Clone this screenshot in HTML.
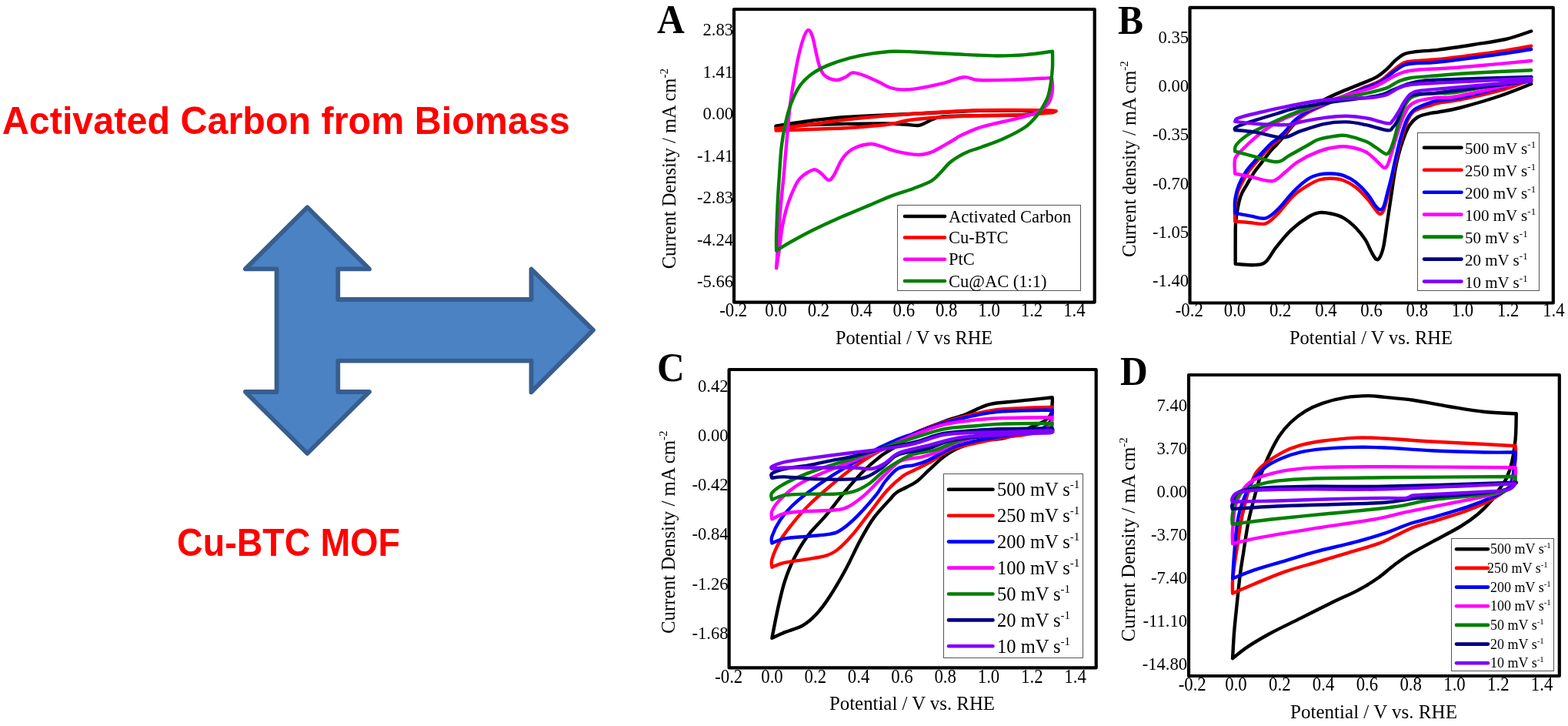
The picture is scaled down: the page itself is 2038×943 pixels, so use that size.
<!DOCTYPE html>
<html><head><meta charset="utf-8"><title>Cu@AC electrocatalyst</title>
<style>html,body{margin:0;padding:0;background:#fff;width:2038px;height:943px;overflow:hidden}svg{display:block}</style>
</head><body>
<svg width="2038" height="943" viewBox="0 0 2038 943">
<g font-family="Liberation Sans, Arial, sans-serif" font-weight="bold" fill="#ff0000">
<text x="2.8" y="173.6" font-size="49.5" textLength="738" lengthAdjust="spacingAndGlyphs">Activated Carbon from Biomass</text>
<text x="230" y="721.5" font-size="50.8" textLength="290" lengthAdjust="spacingAndGlyphs">Cu-BTC MOF</text>
</g>
<polygon points="399.4,269.3 318.9,349.4 359.6,349.4 359.6,509 318.9,509 399.4,589 480,509 439.3,509 439.3,468.6 690.5,468.6 690.5,509.4 771,428.8 690.5,349.5 690.5,389 439.3,389 439.3,349.4 480,349.4" fill="#4a82c3" stroke="#385e8f" stroke-width="5.8" stroke-linejoin="round"/>
<g font-family="Liberation Serif, Times New Roman, serif" fill="#000">
<text transform="translate(854 43) scale(1 1.06)" font-size="49.5" text-anchor="start" font-weight="bold">A</text>
<text transform="translate(953 46.2) scale(1 1.06)" font-size="22.6" text-anchor="end" >2.83</text>
<text transform="translate(953 100.7) scale(1 1.06)" font-size="22.6" text-anchor="end" >1.41</text>
<text transform="translate(953 155.2) scale(1 1.06)" font-size="22.6" text-anchor="end" >0.00</text>
<text transform="translate(953 209.7) scale(1 1.06)" font-size="22.6" text-anchor="end" >-1.41</text>
<text transform="translate(953 264.2) scale(1 1.06)" font-size="22.6" text-anchor="end" >-2.83</text>
<text transform="translate(953 318.7) scale(1 1.06)" font-size="22.6" text-anchor="end" >-4.24</text>
<text transform="translate(953 373.2) scale(1 1.06)" font-size="22.6" text-anchor="end" >-5.66</text>
<text transform="translate(953.2 410.8) scale(1 1.06)" font-size="22.8" text-anchor="middle" >-0.2</text>
<text transform="translate(1008.6 410.8) scale(1 1.06)" font-size="22.8" text-anchor="middle" >0.0</text>
<text transform="translate(1064 410.8) scale(1 1.06)" font-size="22.8" text-anchor="middle" >0.2</text>
<text transform="translate(1119.4 410.8) scale(1 1.06)" font-size="22.8" text-anchor="middle" >0.4</text>
<text transform="translate(1174.8 410.8) scale(1 1.06)" font-size="22.8" text-anchor="middle" >0.6</text>
<text transform="translate(1230.2 410.8) scale(1 1.06)" font-size="22.8" text-anchor="middle" >0.8</text>
<text transform="translate(1285.6 410.8) scale(1 1.06)" font-size="22.8" text-anchor="middle" >1.0</text>
<text transform="translate(1341 410.8) scale(1 1.06)" font-size="22.8" text-anchor="middle" >1.2</text>
<text transform="translate(1396.4 410.8) scale(1 1.06)" font-size="22.8" text-anchor="middle" >1.4</text>
<text transform="translate(1086 446.8) scale(1 1.06)" font-size="24" textLength="204" lengthAdjust="spacingAndGlyphs">Potential / V vs RHE</text>
<text transform="translate(877.5 349.3) rotate(-90)" font-size="24.5">Current Density / mA cm<tspan font-size="15" dy="-10">-2</tspan></text>
</g>
<g fill="none" stroke-linecap="round" stroke-linejoin="round">
<path d="M1008.4 163.6C1016.3 162.4 1040.6 158.4 1055.9 156.5C1071.2 154.6 1084.3 153.2 1100 152C1115.7 150.8 1133.3 150.3 1150 149.5C1166.7 148.7 1180.8 148.2 1200 147.3C1219.2 146.4 1245 144.6 1265 144C1285 143.4 1303 143.5 1320 143.5C1337 143.5 1359.2 143.9 1367 144C1361.3 144.8 1350 147.9 1333 149C1316 150.1 1283 149.9 1265 150.3C1247 150.7 1233.8 150.7 1225 151.5C1216.2 152.3 1215.8 153.6 1212 155C1208.2 156.4 1205.1 158.7 1202 160C1198.9 161.3 1197.9 162.8 1193.4 163C1188.9 163.2 1182.2 161.9 1175 161.5C1167.8 161.1 1162.5 160.6 1150 160.5C1137.5 160.4 1115.7 160.7 1100 160.9C1084.3 161.2 1071.3 161.4 1056 162C1040.7 162.6 1016.3 164.1 1008.4 164.5" stroke="#000000" stroke-width="4.4"/>
<path d="M1008.4 169.5C1018 169.2 1051 168.1 1066.3 167.5C1081.6 166.9 1089.4 166.8 1100 166.2C1110.6 165.6 1120.2 164.9 1130 164C1139.8 163.1 1150.3 162.3 1159 161C1167.7 159.7 1171.8 157.4 1182 156C1192.2 154.6 1206.2 153.4 1220 152.5C1233.8 151.6 1246.2 150.9 1265 150.3C1283.8 149.7 1315.7 149.7 1333 149C1350.3 148.3 1363 146.5 1369 146C1369 145.6 1377.2 144.2 1369 143.7C1360.8 143.2 1337.3 143 1320 143C1302.7 143 1285 142.8 1265 143.5C1245 144.2 1219.2 145.8 1200 147C1180.8 148.2 1166.7 149.1 1150 150.5C1133.3 151.9 1116.7 153.5 1100 155.4C1083.3 157.3 1065.3 160.1 1050 162C1034.7 163.9 1015.3 166.2 1008.4 167" stroke="#ff0000" stroke-width="4.4"/>
<path d="M1009.1 348.4C1009.4 343.6 1010.1 332.9 1011 319.8C1011.9 306.7 1013.2 285 1014.5 270C1015.8 255 1017.3 242.5 1018.5 230C1019.7 217.5 1020 210.9 1021.5 195C1023 179.1 1024.8 153.2 1027.2 134.5C1029.6 115.8 1033.1 96.7 1035.8 83C1038.5 69.3 1041 59.7 1043.4 52.4C1045.8 45.1 1048 40 1050.1 39.1C1052.2 38.2 1054 41.9 1055.8 46.7C1057.5 51.5 1059 61 1060.6 67.7C1062.2 74.4 1063.5 81.7 1065.4 86.8C1067.3 91.9 1068.3 95.3 1072 98.2C1075.7 101.1 1082.8 103.7 1087.3 104C1091.8 104.3 1095.3 101.8 1098.8 100.2C1102.3 98.6 1104.2 94.7 1108.3 94.4C1112.4 94.1 1117.9 96.1 1123.6 98.2C1129.3 100.3 1137.3 104.2 1142.7 106.8C1148.1 109.3 1151.2 111.9 1156 113.5C1160.8 115.1 1165.6 116.1 1171.3 116.4C1177 116.7 1181.2 116.7 1190 115.4C1198.8 114.1 1213.5 111.2 1223.9 108.7C1234.3 106.2 1244.5 101 1252.5 100.2C1260.5 99.4 1261.4 103.4 1271.6 104C1281.8 104.6 1297.7 104.1 1313.6 103.6C1329.5 103.1 1358.1 101.5 1367 101.1C1367.2 102.9 1368 108.3 1368 112C1368 115.7 1368 119.2 1367 123C1366 126.8 1365.5 130.7 1362.3 134.5C1359.1 138.3 1354.5 142.8 1348 146C1341.5 149.2 1335.2 150.4 1323.1 153.6C1311 156.8 1288.1 161.1 1275.4 165C1262.7 168.9 1252.3 174.5 1246.8 177C1241.3 179.5 1245.4 178.1 1242.3 180C1239.2 181.9 1233.5 185.3 1228.3 188.2C1223 191.1 1216.6 195.4 1210.8 197.5C1205 199.6 1201.1 201.2 1193.3 201C1185.5 200.8 1171.9 198.1 1164.1 196.3C1156.3 194.6 1152 192.1 1146.6 190.5C1141.2 188.9 1137.3 186.8 1131.5 187C1125.7 187.2 1117 189.6 1111.7 191.7C1106.5 193.8 1103.1 196.9 1100 199.8C1096.9 202.7 1095.8 204.4 1093 209.1C1090.2 213.8 1086.2 224.1 1083.5 228.2C1080.8 232.3 1079.7 234.5 1076.8 233.9C1073.9 233.3 1069.6 226.6 1066.3 224.4C1063 222.2 1061.2 219.2 1056.8 220.5C1052.3 221.8 1044 227.2 1039.6 232C1035.1 236.8 1033 242.8 1030.1 249.2C1027.2 255.6 1024.6 262.6 1022.4 270.2C1020.2 277.8 1018.3 286.1 1016.7 295C1015.1 303.9 1014.2 314.7 1012.9 323.6C1011.6 332.5 1009.7 344.3 1009.1 348.4" stroke="#ff00ff" stroke-width="4.4"/>
<path d="M1009.1 325.5C1009.1 322 1008.9 314.4 1009.1 304.5C1009.4 294.6 1010 279 1010.6 266.3C1011.2 253.6 1012 240.9 1012.9 228.2C1013.8 215.5 1014.4 201.8 1015.8 190C1017.2 178.2 1019.4 166.7 1021.5 157.4C1023.6 148.2 1025.2 142.1 1028.2 134.5C1031.2 126.9 1035.1 118 1039.6 111.6C1044 105.2 1048.9 100.8 1054.9 96.3C1061 91.8 1067.6 88.4 1075.9 84.9C1084.2 81.4 1095 77.8 1104.5 75.3C1114 72.8 1123.5 71 1133.1 69.6C1142.6 68.2 1152.3 67.1 1161.8 66.8C1171.3 66.5 1177.4 67 1190 67.5C1202.6 68 1219.9 69.2 1237.3 70C1254.7 70.8 1278.6 72.3 1294.5 72.5C1310.4 72.7 1320.5 72 1332.7 71.1C1345 70.1 1362.1 67.5 1368 66.8C1368 70.1 1368.3 80.3 1368 86.8C1367.7 93.3 1367 99.5 1366.1 105.9C1365.1 112.3 1364 119.6 1362.3 125C1360.5 130.4 1358 134.2 1355.6 138.3C1353.2 142.4 1351.8 145.4 1348 149.8C1344.2 154.2 1340 159.9 1332.7 165C1325.4 170.1 1313.5 175.9 1304 180.3C1294.5 184.7 1282.7 188.5 1275.4 191.2C1268.1 193.9 1264.9 194.3 1260 196.3C1255.1 198.3 1250.1 200.8 1245.8 203.3C1241.5 205.8 1238 208 1234.1 211.5C1230.2 215 1226.3 220.4 1222.4 224.3C1218.5 228.2 1216.6 231.4 1210.8 234.8C1205 238.2 1196.2 241.4 1187.5 244.7C1178.8 248 1168 250.9 1158.3 254.6C1148.6 258.3 1138.9 262.8 1129.2 266.9C1119.5 271 1107.3 276 1100 279.1C1092.7 282.2 1092.6 282.1 1085.4 285.4C1078.2 288.7 1066.3 294 1056.8 298.8C1047.3 303.6 1036.2 309.6 1028.2 314C1020.2 318.4 1012.3 323.6 1009.1 325.5" stroke="#008000" stroke-width="4.4"/>
</g>
<rect x="1166.5" y="266.5" width="238" height="111" fill="#fff" stroke="#555" stroke-width="1"/>
<g font-family="Liberation Serif, Times New Roman, serif" fill="#000">
<line x1="1176" y1="281" x2="1228" y2="281" stroke="#000000" stroke-width="4.6" stroke-linecap="round"/>
<text x="1233" y="288.5" font-size="22.5">Activated Carbon</text>
<line x1="1176" y1="308.5" x2="1228" y2="308.5" stroke="#ff0000" stroke-width="4.6" stroke-linecap="round"/>
<text x="1233" y="316" font-size="22.5">Cu-BTC</text>
<line x1="1176" y1="336.8" x2="1228" y2="336.8" stroke="#ff00ff" stroke-width="4.6" stroke-linecap="round"/>
<text x="1233" y="344.3" font-size="22.5">PtC</text>
<line x1="1176" y1="365" x2="1228" y2="365" stroke="#008000" stroke-width="4.6" stroke-linecap="round"/>
<text x="1233" y="372.5" font-size="22.5">Cu@AC (1:1)</text>
</g>
<rect x="954" y="12" width="468.7" height="380.6" fill="none" stroke="#000" stroke-width="4.2" stroke-linejoin="round"/>
<g font-family="Liberation Serif, Times New Roman, serif" fill="#000">
<text transform="translate(1453 44.3) scale(1 1.06)" font-size="49.5" text-anchor="start" font-weight="bold">B</text>
<text transform="translate(1545 55.8) scale(1 1.06)" font-size="22.6" text-anchor="end" >0.35</text>
<text transform="translate(1545 119.1) scale(1 1.06)" font-size="22.6" text-anchor="end" >0.00</text>
<text transform="translate(1545 182.4) scale(1 1.06)" font-size="22.6" text-anchor="end" >-0.35</text>
<text transform="translate(1545 245.6) scale(1 1.06)" font-size="22.6" text-anchor="end" >-0.70</text>
<text transform="translate(1545 308.9) scale(1 1.06)" font-size="22.6" text-anchor="end" >-1.05</text>
<text transform="translate(1545 372.2) scale(1 1.06)" font-size="22.6" text-anchor="end" >-1.40</text>
<text transform="translate(1545.8 411.4) scale(1 1.06)" font-size="22.8" text-anchor="middle" >-0.2</text>
<text transform="translate(1605 411.4) scale(1 1.06)" font-size="22.8" text-anchor="middle" >0.0</text>
<text transform="translate(1664.2 411.4) scale(1 1.06)" font-size="22.8" text-anchor="middle" >0.2</text>
<text transform="translate(1723.4 411.4) scale(1 1.06)" font-size="22.8" text-anchor="middle" >0.4</text>
<text transform="translate(1782.6 411.4) scale(1 1.06)" font-size="22.8" text-anchor="middle" >0.6</text>
<text transform="translate(1841.8 411.4) scale(1 1.06)" font-size="22.8" text-anchor="middle" >0.8</text>
<text transform="translate(1901 411.4) scale(1 1.06)" font-size="22.8" text-anchor="middle" >1.0</text>
<text transform="translate(1960.2 411.4) scale(1 1.06)" font-size="22.8" text-anchor="middle" >1.2</text>
<text transform="translate(2019.4 411.4) scale(1 1.06)" font-size="22.8" text-anchor="middle" >1.4</text>
<text transform="translate(1676 447.1) scale(1 1.06)" font-size="24" textLength="212" lengthAdjust="spacingAndGlyphs">Potential / V vs. RHE</text>
<text transform="translate(1475.5 333.9) rotate(-90)" font-size="24.5">Current density / mA cm<tspan font-size="15" dy="-10">-2</tspan></text>
</g>
<g fill="none" stroke-linecap="round" stroke-linejoin="round">
<path d="M1990.2 109C1983.5 111.6 1965.4 119.3 1949.9 124.5C1934.5 129.7 1910.8 136.5 1897.5 140C1884.2 143.5 1876.2 144.3 1870 145.5C1863.8 146.7 1864.5 145.8 1860 146.9C1855.5 148 1847.7 149.2 1842.9 152C1838.2 154.8 1834.7 158.6 1831.5 163.5C1828.3 168.4 1826.1 174.9 1823.8 181.3C1821.5 187.7 1819.3 194.6 1817.5 201.7C1815.7 208.8 1814.4 214.9 1812.8 223.9C1811.2 232.9 1809.6 245.1 1808 255.7C1806.4 266.3 1804.8 276.9 1803.2 287.5C1801.6 298.1 1800 311.7 1798.4 319.4C1796.8 327.1 1795.3 330.8 1793.7 333.7C1792.1 336.6 1790.8 338 1788.9 336.9C1787 335.8 1784.9 331.6 1782.5 327.3C1780.1 323.1 1778 316.7 1774.6 311.4C1771.1 306.1 1766.6 300.3 1761.8 295.5C1757 290.7 1751.2 285.8 1745.9 282.8C1740.6 279.8 1735.2 278.6 1730 277.5C1724.8 276.4 1720 275.4 1715 276.2C1710 276.9 1706.4 278.3 1700.3 282C1694.2 285.7 1685.2 292.2 1678.3 298.6C1671.4 305.1 1664.5 313.8 1659 320.7C1653.5 327.6 1649.8 336.1 1645.2 340C1640.6 343.9 1638 343.6 1631.4 344.1C1624.8 344.6 1610 343 1605.7 342.8C1605.7 337.3 1605.6 319.6 1605.7 310C1605.8 300.4 1605.4 294 1606.5 285C1607.6 276 1609.8 263.5 1612.1 256C1614.4 248.5 1617.5 245.3 1620.5 240C1623.5 234.7 1626.8 228.7 1630 224C1633.2 219.3 1635.8 216.4 1639.5 211.6C1643.2 206.8 1648.9 199.2 1652.3 195.1C1655.7 191 1657 190.4 1660 187C1663 183.6 1667.1 179 1670.6 174.8C1674.1 170.7 1676.8 167.1 1681.2 162.1C1685.6 157.1 1691.8 149.7 1697.1 145.1C1702.4 140.5 1708.6 137.3 1713 134.5C1717.4 131.7 1718.3 130.8 1723.6 128.2C1728.9 125.5 1737.7 121.6 1744.8 118.6C1751.9 115.6 1758.7 113.1 1766 110.1C1773.3 107.1 1782.7 103.6 1788.6 100.4C1794.5 97.2 1797.1 94.6 1801.3 90.9C1805.5 87.2 1810 81.7 1814 78.2C1818 74.8 1820.7 72.1 1825.2 70.2C1829.7 68.3 1833.5 67.9 1841 67C1848.5 66.1 1857.7 66.1 1870 64.6C1882.3 63.1 1900.5 60.3 1915 58C1929.5 55.7 1944.4 53.9 1956.9 51C1969.4 48.1 1984.7 42.2 1990.2 40.5" stroke="#000000" stroke-width="4.4"/>
<path d="M1990.2 103.5C1983.5 105.8 1965.4 113.1 1949.9 117.5C1934.5 121.9 1910.8 127 1897.5 129.7C1884.2 132.4 1876.2 132.6 1870 133.8C1863.8 135 1865.4 134.9 1860 136.7C1854.6 138.5 1843.1 140.5 1837.8 144.4C1832.5 148.3 1831 153.2 1828 160C1825 166.8 1822.3 177 1820 185C1817.7 193 1816.1 200.7 1814.4 208C1812.7 215.3 1811.5 220.7 1809.6 228.6C1807.7 236.5 1805.1 248.3 1803.2 255.7C1801.3 263.1 1800 269.5 1798.4 273.2C1796.8 276.9 1795.6 278.3 1793.7 278C1791.8 277.7 1790 274.8 1787.3 271.6C1784.6 268.4 1782 263.7 1777.7 258.9C1773.5 254.1 1767.1 247.1 1761.8 243C1756.5 238.9 1751.2 236.1 1745.9 234.2C1740.6 232.3 1735.2 231.9 1730 231.8C1724.8 231.7 1720 232 1715 233.5C1710 235 1706 237.2 1700.3 240.7C1694.6 244.2 1687.4 248.5 1681 254.5C1674.6 260.5 1667.7 270.6 1661.7 276.6C1655.7 282.6 1651.6 288.2 1645.2 290.3C1638.8 292.4 1629.8 289.4 1623.1 289C1616.4 288.6 1608.2 287.8 1605.2 287.6C1605.2 284.7 1604.7 275.9 1605.2 270C1605.7 264.1 1606.9 256.7 1608 252C1609.1 247.3 1609.7 246.7 1612 242C1614.3 237.3 1618.2 229.7 1622 224C1625.8 218.3 1629.8 213.9 1635 208C1640.2 202.1 1648.7 192.8 1653 188.5C1657.3 184.2 1657.9 185.2 1661 182.5C1664.1 179.8 1668 175.8 1671.5 172C1675 168.2 1677.6 164.1 1682 160C1686.4 155.9 1692.7 150.9 1698 147.5C1703.3 144.1 1708.7 142 1714 139.5C1719.3 137 1724 135.2 1730 132.5C1736 129.8 1743.4 126.4 1750 123.5C1756.6 120.6 1762.3 118 1769.5 115C1776.7 112 1786.8 109 1793.4 105.2C1800 101.5 1804 96.5 1809.3 92.5C1814.6 88.5 1819.9 83.5 1825.2 81.3C1830.5 79 1833.5 79.7 1841 79C1848.5 78.3 1860.6 77.8 1870 76.9C1879.4 76 1884.2 75.4 1897.5 73.7C1910.8 72 1934.5 69 1949.9 66.7C1965.4 64.4 1983.5 60.9 1990.2 59.7" stroke="#ff0000" stroke-width="4.4"/>
<path d="M1990.2 100C1983.5 102.3 1965.4 109.5 1949.9 114C1934.5 118.5 1910.8 124.2 1897.5 127C1884.2 129.8 1876.2 129.6 1870 130.6C1863.8 131.6 1865.2 131 1860 132.9C1854.8 134.8 1844.3 138.2 1839.1 141.8C1833.9 145.4 1831.9 148.9 1828.9 154.6C1825.9 160.3 1823.8 167.5 1821.3 176.2C1818.8 184.9 1815.8 197.8 1813.7 206.8C1811.6 215.8 1810.3 222.7 1808.6 230C1806.8 237.3 1804.9 244.5 1803.2 250.9C1801.5 257.3 1800 264.8 1798.4 268.4C1796.8 272 1795.6 272.7 1793.7 272.4C1791.8 272.1 1790 270.1 1787.3 266.8C1784.6 263.5 1782 257.5 1777.7 252.5C1773.5 247.5 1767.1 240.7 1761.8 236.6C1756.5 232.5 1751.2 229.8 1745.9 227.9C1740.6 226.1 1735.2 225.7 1730 225.5C1724.8 225.3 1720 225.5 1715 226.7C1710 227.8 1706 228.7 1700.3 232.4C1694.6 236.1 1687.4 242.6 1681 249C1674.6 255.4 1667.7 265.3 1661.7 271C1655.7 276.7 1651.2 281.8 1645.2 283.4C1639.2 285 1632.6 281.8 1625.9 280.7C1619.2 279.6 1608.7 277.3 1605.2 276.6C1605.2 273.8 1604.4 266.1 1605.2 260C1606 253.9 1607.8 246.3 1610.3 240C1612.8 233.7 1616.2 227.6 1620 222C1623.8 216.4 1627.8 212.5 1633.2 206.5C1638.6 200.5 1647.8 190.5 1652.3 186.2C1656.8 181.9 1657 183.1 1660 180.5C1663 177.9 1667.1 174.4 1670.6 170.6C1674.1 166.8 1676.8 161.9 1681.2 157.8C1685.6 153.7 1691.8 149.4 1697.1 146.2C1702.4 143 1707.7 141.1 1713 138.8C1718.3 136.5 1722.7 135 1728.9 132.4C1735.1 129.8 1743.2 126.2 1750 123.5C1756.8 120.8 1762.3 118.8 1769.5 116C1776.7 113.2 1786.8 110.3 1793.4 106.8C1800 103.3 1804 98.6 1809.3 94.9C1814.6 91.2 1819.9 86.6 1825.2 84.5C1830.5 82.4 1833.5 82.8 1841 82.1C1848.5 81.4 1851.8 82.5 1870 80.5C1888.2 78.5 1929.9 73 1949.9 70.2C1969.9 67.5 1983.5 65 1990.2 64" stroke="#0000ff" stroke-width="4.4"/>
<path d="M1990.2 103.5C1974.8 107 1917.5 120.6 1897.5 124.5C1877.5 128.4 1876.2 126.2 1870 126.7C1863.8 127.2 1864.7 127 1860 127.8C1855.3 128.6 1846.5 129.9 1841.7 131.6C1837 133.3 1834.5 134.6 1831.5 138C1828.5 141.4 1826.3 146.1 1823.8 152C1821.2 157.9 1818.7 165.8 1816.2 173.7C1813.7 181.5 1810.7 192.3 1808.6 199.1C1806.5 205.9 1805.2 211.3 1803.5 214.4C1801.8 217.5 1801 218.7 1798.4 217.6C1795.9 216.5 1792 211.3 1788.2 208C1784.4 204.7 1780.7 200.2 1775.5 197.5C1770.3 194.8 1762.9 192.7 1757 191.5C1751.1 190.3 1747.2 189.7 1740 190.5C1732.8 191.3 1723 193.3 1714.1 196.6C1705.2 199.9 1693.9 205.7 1686.6 210.3C1679.2 214.9 1675.5 219.9 1670 224.1C1664.5 228.2 1660.8 234.3 1653.4 235.2C1646.1 236.1 1633.9 231.3 1625.9 229.7C1617.9 228.1 1608.7 226.2 1605.2 225.5C1605.2 222.3 1603.7 211.6 1605.2 206.5C1606.7 201.4 1609.4 200 1614.1 195.1C1618.8 190.2 1626.8 182.6 1633.2 177.3C1639.6 172 1645.9 167.3 1652.3 163.3C1658.7 159.3 1665.1 156.1 1671.4 153.1C1677.8 150.1 1683.6 148 1690.4 145.5C1697.2 143 1704.7 140.8 1712 138C1719.3 135.2 1727.3 131.6 1734.2 129C1741.1 126.5 1745.1 125.4 1753.6 122.7C1762.1 120 1776.1 116.8 1785.4 113.1C1794.7 109.4 1802.7 103.7 1809.3 100.4C1815.9 97.1 1818.6 95 1825.2 93.3C1831.8 91.6 1841.5 90.8 1849 90.1C1856.5 89.4 1859 90 1870 89.3C1881 88.6 1895 87.7 1915 86C1935 84.3 1977.7 80.2 1990.2 79" stroke="#ff00ff" stroke-width="4.4"/>
<path d="M1990.2 100C1974.8 103.2 1917.5 115.7 1897.5 119.2C1877.5 122.7 1876.2 120.7 1870 121.1C1863.8 121.5 1864.1 121.2 1860 121.5C1855.9 121.8 1850 121.7 1845.5 122.7C1841 123.8 1836.3 124.6 1832.7 127.8C1829.1 131 1826.3 136.3 1823.8 141.8C1821.3 147.3 1819.6 153.9 1817.5 160.9C1815.4 167.9 1813 177.9 1811.1 183.8C1809.2 189.8 1807.7 193.9 1806 196.6C1804.3 199.3 1803.9 200.7 1800.9 199.8C1797.9 199 1792.4 194.2 1788.2 191.5C1784 188.8 1781.9 186.4 1775.5 183.8C1769.1 181.2 1756.3 177.4 1750 176.2C1743.7 175 1743.7 175.7 1737.7 176.5C1731.7 177.3 1720.2 179 1714 181C1707.8 183 1706.7 184.8 1700.3 188.3C1693.9 191.8 1682.4 198.4 1675.5 202.1C1668.6 205.8 1667.3 210.3 1659 210.3C1650.7 210.3 1634.9 204.4 1625.9 202.1C1616.9 199.8 1608.7 197.5 1605.2 196.6C1605.4 195.3 1604 192.1 1606.5 188.7C1609 185.3 1615 179.8 1620.5 176C1626 172.2 1633.2 169 1639.5 165.8C1645.8 162.6 1651.6 160 1658.6 156.9C1665.5 153.8 1673.9 150 1681.2 147.2C1688.5 144.3 1695.9 142 1702.4 139.8C1708.9 137.6 1713.7 136 1720 134C1726.3 132 1731.8 129.9 1740 128C1748.2 126.1 1759.3 124.9 1769.5 122.7C1779.7 120.5 1793.3 117.5 1801.3 114.7C1809.2 111.9 1811.9 108.2 1817.2 106C1822.5 103.8 1824.3 102.5 1833.1 101.2C1841.9 99.9 1856.3 99.1 1870 98C1883.7 96.9 1895 95.8 1915 94.7C1935 93.6 1977.7 91.8 1990.2 91.2" stroke="#008000" stroke-width="4.4"/>
<path d="M1990.2 105.2C1971.8 107.5 1901.7 116.3 1880 119C1858.3 121.7 1866.8 120.9 1860 121.5C1853.2 122.1 1844.3 121.7 1839.1 122.7C1833.9 123.8 1832 124.4 1829 127.8C1826 131.2 1823.4 138.2 1821.3 143.1C1819.2 148 1818.1 153.3 1816.2 157.1C1814.3 160.9 1811.9 164 1809.8 166C1807.7 168 1809.2 169.8 1803.5 169.2C1797.8 168.6 1784.4 164 1775.5 162.2C1766.6 160.4 1759 158.6 1750 158.4C1741 158.2 1731.8 158.8 1721.8 160.8C1711.8 162.8 1699.1 167.4 1690 170.4C1680.9 173.4 1677 178.4 1667.2 178.6C1657.4 178.8 1641.7 173.3 1631.4 171.7C1621.1 170.1 1609.6 169.4 1605.2 169C1605.2 168.5 1604 167.2 1605.5 166C1607 164.8 1609.5 163.7 1614.1 162C1618.7 160.3 1625.8 157.9 1633.2 155.6C1640.6 153.3 1650.1 150.5 1658.6 148C1667.1 145.5 1672.5 142.9 1684.1 140.4C1695.6 137.9 1710.2 135.8 1727.9 133.1C1745.6 130.4 1776.3 127.2 1790 124.5C1803.7 121.8 1803.3 119.6 1810 117C1816.7 114.4 1823.3 111 1830 109C1836.7 107 1843.3 105.9 1850 105C1856.7 104.1 1846.6 104.4 1870 103.6C1893.4 102.8 1970.2 100.6 1990.2 100" stroke="#000080" stroke-width="4.4"/>
<path d="M1990.2 105.2C1968.5 107.1 1885.6 113.9 1860 116.4C1834.4 118.9 1842.2 117.9 1836.6 120.2C1831 122.5 1829.6 126.2 1826.4 130.4C1823.2 134.6 1820.3 141.2 1817.5 145.6C1814.7 150 1812.1 154.6 1809.8 157.1C1807.5 159.6 1809.2 160.9 1803.5 160.3C1797.8 159.7 1784.4 154.9 1775.5 153.3C1766.6 151.7 1759 150.8 1750 150.7C1741 150.6 1731.8 151.6 1721.8 152.9C1711.8 154.2 1698.2 157 1690 158.5C1681.8 160 1682.6 161.7 1672.8 162.1C1663 162.5 1642.7 161.4 1631.4 160.7C1620.1 160 1609.6 158.4 1605.2 157.9C1605.5 157.3 1605.5 155.5 1607 154.5C1608.5 153.5 1608.7 153.3 1614.1 151.8C1619.5 150.3 1631.8 147.3 1639.5 145.5C1647.2 143.7 1651.3 142.7 1660 140.9C1668.7 139.1 1682.1 136.3 1691.8 134.5C1701.5 132.7 1709.5 131.4 1718.3 130.3C1727.1 129.2 1734.5 128.8 1744.8 128.2C1755.1 127.6 1770.6 127.8 1780 127C1789.4 126.2 1795.1 125.5 1801.3 123.5C1807.5 121.5 1811.9 117 1817.2 114.7C1822.5 112.5 1824.3 111.2 1833.1 110C1841.9 108.8 1843.8 109 1870 107.6C1896.2 106.2 1970.2 102.7 1990.2 101.7" stroke="#8000ff" stroke-width="4.4"/>
</g>
<rect x="1842.5" y="172.5" width="158" height="205" fill="#fff" stroke="#555" stroke-width="1"/>
<g font-family="Liberation Serif, Times New Roman, serif" fill="#000">
<line x1="1851" y1="191.7" x2="1899.5" y2="191.7" stroke="#000000" stroke-width="4.6" stroke-linecap="round"/>
<text x="1904" y="199.7" font-size="21">500 mV s<tspan font-size="13" dy="-8">-1</tspan></text>
<line x1="1851" y1="220.7" x2="1899.5" y2="220.7" stroke="#ff0000" stroke-width="4.6" stroke-linecap="round"/>
<text x="1904" y="228.7" font-size="21">250 mV s<tspan font-size="13" dy="-8">-1</tspan></text>
<line x1="1851" y1="249.7" x2="1899.5" y2="249.7" stroke="#0000ff" stroke-width="4.6" stroke-linecap="round"/>
<text x="1904" y="257.7" font-size="21">200 mV s<tspan font-size="13" dy="-8">-1</tspan></text>
<line x1="1851" y1="278.6" x2="1899.5" y2="278.6" stroke="#ff00ff" stroke-width="4.6" stroke-linecap="round"/>
<text x="1904" y="286.6" font-size="21">100 mV s<tspan font-size="13" dy="-8">-1</tspan></text>
<line x1="1851" y1="307.6" x2="1899.5" y2="307.6" stroke="#008000" stroke-width="4.6" stroke-linecap="round"/>
<text x="1904" y="315.6" font-size="21">50 mV s<tspan font-size="13" dy="-8">-1</tspan></text>
<line x1="1851" y1="336.6" x2="1899.5" y2="336.6" stroke="#000080" stroke-width="4.6" stroke-linecap="round"/>
<text x="1904" y="344.6" font-size="21">20 mV s<tspan font-size="13" dy="-8">-1</tspan></text>
<line x1="1851" y1="365.6" x2="1899.5" y2="365.6" stroke="#8000ff" stroke-width="4.6" stroke-linecap="round"/>
<text x="1904" y="373.6" font-size="21">10 mV s<tspan font-size="13" dy="-8">-1</tspan></text>
</g>
<rect x="1546.5" y="9.9" width="472.3" height="383.6" fill="none" stroke="#000" stroke-width="4.2" stroke-linejoin="round"/>
<g font-family="Liberation Serif, Times New Roman, serif" fill="#000">
<text transform="translate(854 495.2) scale(1 1.06)" font-size="49.5" text-anchor="start" font-weight="bold">C</text>
<text transform="translate(946.5 508.8) scale(1 1.06)" font-size="22.6" text-anchor="end" >0.42</text>
<text transform="translate(946.5 573) scale(1 1.06)" font-size="22.6" text-anchor="end" >0.00</text>
<text transform="translate(946.5 637.2) scale(1 1.06)" font-size="22.6" text-anchor="end" >-0.42</text>
<text transform="translate(946.5 701.3) scale(1 1.06)" font-size="22.6" text-anchor="end" >-0.84</text>
<text transform="translate(946.5 765.5) scale(1 1.06)" font-size="22.6" text-anchor="end" >-1.26</text>
<text transform="translate(946.5 829.7) scale(1 1.06)" font-size="22.6" text-anchor="end" >-1.68</text>
<text transform="translate(947.2 886.5) scale(1 1.06)" font-size="22.8" text-anchor="middle" >-0.2</text>
<text transform="translate(1003.5 886.5) scale(1 1.06)" font-size="22.8" text-anchor="middle" >0.0</text>
<text transform="translate(1059.8 886.5) scale(1 1.06)" font-size="22.8" text-anchor="middle" >0.2</text>
<text transform="translate(1116.1 886.5) scale(1 1.06)" font-size="22.8" text-anchor="middle" >0.4</text>
<text transform="translate(1172.4 886.5) scale(1 1.06)" font-size="22.8" text-anchor="middle" >0.6</text>
<text transform="translate(1228.7 886.5) scale(1 1.06)" font-size="22.8" text-anchor="middle" >0.8</text>
<text transform="translate(1285 886.5) scale(1 1.06)" font-size="22.8" text-anchor="middle" >1.0</text>
<text transform="translate(1341.3 886.5) scale(1 1.06)" font-size="22.8" text-anchor="middle" >1.2</text>
<text transform="translate(1397.6 886.5) scale(1 1.06)" font-size="22.8" text-anchor="middle" >1.4</text>
<text transform="translate(1078 922.4) scale(1 1.06)" font-size="24" textLength="215" lengthAdjust="spacingAndGlyphs">Potential / V vs. RHE</text>
<text transform="translate(876.5 823.1) rotate(-90)" font-size="24.85">Current Density / mA cm<tspan font-size="15" dy="-10">-2</tspan></text>
</g>
<g fill="none" stroke-linecap="round" stroke-linejoin="round">
<path d="M1003.4 828.8C1004.6 822.6 1008.1 803.8 1010.8 791.7C1013.5 779.6 1016.2 766.9 1019.7 756C1023.2 745.1 1026.6 736.2 1031.6 726.3C1036.5 716.4 1042.5 706 1049.4 696.6C1056.3 687.2 1065.3 679.3 1073.2 669.9C1081.1 660.5 1089 649.6 1096.9 640.2C1104.8 630.8 1112.8 621.4 1120.7 613.5C1128.6 605.6 1136.5 598.7 1144.4 592.7C1152.3 586.8 1160.9 582.8 1168.2 577.8C1175.5 572.8 1178.5 568 1188.2 563C1197.9 558 1215.3 551.8 1226.4 547.7C1237.5 543.6 1245.5 541.9 1255 538.2C1264.5 534.6 1274.2 528.5 1283.7 525.8C1293.2 523.1 1302.8 523.1 1312.3 522C1321.8 520.9 1331.7 520.1 1340.9 519.1C1350.1 518.1 1363.2 516.7 1367.7 516.2C1367.7 517.3 1368 519.2 1367.7 522.9C1367.4 526.6 1367.7 534.1 1365.8 538.2C1363.9 542.3 1357.8 546.1 1356.2 547.7C1350.5 550.2 1330.7 559.3 1321.8 563C1312.9 566.7 1310.7 568.1 1302.7 569.7C1294.8 571.3 1283.6 570.5 1274.1 572.6C1264.6 574.7 1253.5 578.6 1245.5 582.1C1237.5 585.6 1232.8 588.8 1226.4 593.6C1220 598.4 1213 605.5 1207.3 610.7C1201.6 615.9 1196.9 621.3 1192 625C1187.1 628.7 1182.5 630.5 1178 633C1173.5 635.5 1168.6 637.3 1165 640C1161.4 642.7 1161.2 643.6 1156.3 649.1C1151.4 654.6 1141.9 664 1135.5 672.9C1129.1 681.8 1123.6 691.7 1117.7 702.6C1111.8 713.5 1106.3 726.3 1099.9 738.2C1093.5 750.1 1085.5 763.9 1079.1 773.8C1072.7 783.7 1067.2 791.2 1061.3 797.6C1055.4 804 1050.4 808.4 1043.5 812.4C1036.6 816.4 1026.4 818.7 1019.7 821.4C1013 824.1 1006.1 827.6 1003.4 828.8" stroke="#000000" stroke-width="4.4"/>
<path d="M1003.4 736.7C1003.4 735 1001.7 732 1003.4 726.3C1005.1 720.6 1009.6 710 1013.8 702.6C1018 695.2 1022.7 689.2 1028.6 681.8C1034.5 674.4 1041 666.4 1049.4 658C1057.8 649.6 1069.2 639.7 1079.1 631.3C1089 622.9 1098.9 614.7 1108.8 607.5C1118.7 600.3 1128.6 593.6 1138.5 588.2C1148.4 582.8 1159.9 579.1 1168.2 574.9C1176.5 570.7 1178.5 567.4 1188.2 563C1197.9 558.6 1213.7 552.8 1226.4 548.7C1239.1 544.6 1251.9 541.1 1264.6 538.2C1277.3 535.3 1285.5 533.1 1302.7 531.5C1319.9 529.9 1356.9 529.1 1367.7 528.6C1367.4 531.3 1368 540.3 1366 545C1364 549.7 1360.2 554 1356 557C1351.8 560 1349.8 561 1340.9 563C1332 565 1315.4 566.5 1302.7 568.7C1290 570.9 1275.7 573.9 1264.6 576.4C1253.5 578.9 1245.5 579.9 1235.9 584C1226.4 588.1 1215.2 596.8 1207.3 601.2C1199.3 605.7 1193.8 607.9 1188.2 610.7C1182.7 613.5 1179.9 613.6 1174 618C1168.1 622.4 1160.4 628.9 1153 637C1145.6 645.1 1137 657.5 1129.6 666.9C1122.2 676.3 1115.7 685.7 1108.8 693.6C1101.9 701.5 1093.9 709.7 1088 714.4C1082.1 719.1 1079.6 719.9 1073.2 721.9C1066.8 723.9 1058.3 724.8 1049.4 726.3C1040.5 727.8 1027.4 729.1 1019.7 730.8C1012 732.5 1006.1 735.7 1003.4 736.7" stroke="#ff0000" stroke-width="4.4"/>
<path d="M1003.4 705.5C1003.4 704 1001.7 701.6 1003.4 696.6C1005.1 691.6 1009.6 682.2 1013.8 675.8C1018 669.4 1022.7 663.9 1028.6 658C1034.5 652.1 1041 646.6 1049.4 640.2C1057.8 633.8 1069.2 625.8 1079.1 619.4C1089 613 1098.9 607.5 1108.8 601.6C1118.7 595.7 1131.6 587.7 1138.5 583.8C1145.4 579.9 1145 580.6 1150 578.3C1155 576 1161.8 572.5 1168.2 570C1174.6 567.5 1178.5 566.4 1188.2 563C1197.9 559.6 1213.7 553.4 1226.4 549.6C1239.1 545.8 1251.9 542.6 1264.6 540.1C1277.3 537.6 1285.5 535.7 1302.7 534.4C1319.9 533.1 1356.9 532.8 1367.7 532.5C1367.4 534.8 1368 542.1 1366 546C1364 549.9 1360.2 553.5 1356 556C1351.8 558.5 1349.8 559.3 1340.9 561.1C1332 562.9 1315.4 564.7 1302.7 566.8C1290 568.9 1275.7 571 1264.6 573.5C1253.5 576 1245.5 578.1 1235.9 582.1C1226.4 586.1 1215.2 593.7 1207.3 597.4C1199.3 601.1 1193.6 602.7 1188.2 604.1C1182.8 605.5 1178.9 605 1175 606C1171.1 607 1169.2 606.7 1165 610C1160.8 613.3 1154.4 620.5 1150 626C1145.6 631.5 1144.4 635.9 1138.5 643.2C1132.6 650.5 1122.1 662.5 1114.7 669.9C1107.3 677.3 1099.9 683.8 1094 687.7C1088.1 691.7 1086.5 692.1 1079.1 693.6C1071.7 695.1 1059.3 695.6 1049.4 696.6C1039.5 697.6 1027.4 698.1 1019.7 699.6C1012 701.1 1006.1 704.5 1003.4 705.5" stroke="#0000ff" stroke-width="4.4"/>
<path d="M1003.4 674.3C1003.4 672.6 1001.7 668.2 1003.4 664C1005.1 659.8 1008.6 654.6 1013.8 649.1C1019 643.6 1026.2 636.8 1034.6 631.3C1043 625.8 1054.3 620.8 1064.2 616.4C1074.1 612 1084.1 608.5 1094 604.6C1103.9 600.7 1114.3 596.5 1123.6 592.7C1132.9 588.9 1139.2 586.6 1150 582C1160.8 577.4 1175.5 570 1188.2 564.9C1200.9 559.8 1213.7 554.8 1226.4 551.6C1239.1 548.4 1251.9 547.2 1264.6 545.8C1277.3 544.4 1285.5 543.6 1302.7 543C1319.9 542.4 1356.9 542.2 1367.7 542C1367.4 543.7 1368 549.5 1366 552C1364 554.5 1360.2 555.8 1356 557C1351.8 558.2 1353 557.9 1340.9 559.2C1328.9 560.5 1299.6 562.4 1283.7 564.9C1267.8 567.4 1256.7 570.7 1245.5 574.5C1234.3 578.3 1224.8 584.6 1216.8 587.8C1208.8 591 1203.8 592.2 1197.7 593.6C1191.6 595 1185 594.9 1180 596C1175 597.1 1171.7 597.8 1168 600C1164.3 602.2 1161.9 605.3 1158 609C1154.1 612.7 1150.1 616.7 1144.4 622.4C1138.7 628.1 1130.5 637.3 1123.6 643.2C1116.7 649.1 1109.3 654.8 1102.9 658C1096.5 661.2 1093.9 661.5 1085 662.5C1076.1 663.5 1060.3 663.3 1049.4 664C1038.5 664.7 1027.4 665.2 1019.7 666.9C1012 668.6 1006.1 673.1 1003.4 674.3" stroke="#ff00ff" stroke-width="4.4"/>
<path d="M1003.4 649.1C1003.4 647.6 1000.7 643.7 1003.4 640.2C1006.1 636.7 1012 632.5 1019.7 628.3C1027.4 624.1 1039.5 618.8 1049.4 614.9C1059.3 611 1069.2 607.8 1079.1 604.6C1089 601.4 1098.9 598.8 1108.8 595.6C1118.7 592.4 1128.6 588.7 1138.5 585.2C1148.4 581.8 1159.9 577.6 1168.2 574.9C1176.5 572.1 1178.5 571.6 1188.2 568.7C1197.9 565.8 1213.7 559.8 1226.4 557.3C1239.1 554.8 1251.9 554.6 1264.6 553.5C1277.3 552.4 1285.5 551.2 1302.7 550.6C1319.9 550 1356.9 550.1 1367.7 550C1367.4 551 1368 554.7 1366 556C1364 557.3 1360.2 557.7 1356 558C1351.8 558.3 1353 557.2 1340.9 558C1328.9 558.8 1299.6 560.6 1283.7 563C1267.8 565.4 1256.7 569.1 1245.5 572.6C1234.3 576.1 1226.3 581.1 1216.8 584C1207.2 586.9 1195.3 587.8 1188.2 589.7C1181.1 591.6 1180.4 592.1 1174.1 595.6C1167.8 599.1 1157.8 605 1150.4 610.5C1143 616 1136.5 623.6 1129.6 628.3C1122.7 633 1116.2 636.5 1108.8 638.7C1101.4 640.9 1094.9 641.2 1085 641.7C1075.1 642.2 1060.3 641.5 1049.4 641.7C1038.5 642 1027.4 642 1019.7 643.2C1012 644.4 1006.1 648.1 1003.4 649.1" stroke="#008000" stroke-width="4.4"/>
<path d="M1003.4 620.9C1003.4 619.9 1000.7 616.9 1003.4 614.9C1006.1 612.9 1012 610.7 1019.7 609C1027.4 607.3 1039.5 606.3 1049.4 604.6C1059.3 602.9 1069.2 600.6 1079.1 598.6C1089 596.6 1097 595.5 1108.8 592.7C1120.6 590 1136.8 585.1 1150 582.1C1163.2 579.1 1175.5 577.7 1188.2 574.5C1200.9 571.3 1213.7 565.5 1226.4 563C1239.1 560.5 1251.9 560.2 1264.6 559.2C1277.3 558.2 1285.5 557.8 1302.7 557.3C1319.9 556.8 1356.9 556.5 1367.7 556.3C1367.4 556.9 1370.5 559 1366 560C1361.5 561 1361 560.2 1340.9 562C1320.8 563.8 1267.8 567.2 1245.5 570.6C1223.2 574 1220 578.9 1207.3 582.1C1194.6 585.3 1177.8 587 1169.1 590C1160.4 593 1159.1 596.8 1155 600C1150.9 603.2 1149.1 605.8 1144.4 609C1139.7 612.2 1132.5 617.2 1126.6 619.4C1120.7 621.6 1119.2 621.9 1108.8 622.4C1098.4 622.9 1079 622.9 1064.2 622.4C1049.4 621.9 1029.8 619.6 1019.7 619.4C1009.6 619.1 1006.1 620.6 1003.4 620.9" stroke="#000080" stroke-width="4.4"/>
<path d="M1003.4 609C1003.4 608.5 1000.7 607.5 1003.4 606C1006.1 604.5 1012 601.8 1019.7 600.1C1027.4 598.4 1037 597.3 1049.4 595.6C1061.8 593.9 1079.2 591.6 1094 589.7C1108.8 587.9 1129.2 585.6 1138.5 584.5C1147.8 583.4 1141.7 584.4 1150 583C1158.3 581.6 1175.5 579.4 1188.2 576.4C1200.9 573.4 1213.7 567.3 1226.4 564.9C1239.1 562.5 1251.9 562.6 1264.6 562C1277.3 561.4 1285.5 561.6 1302.7 561.1C1319.9 560.6 1356.9 559.5 1367.7 559.2C1367.4 559.7 1370.5 561.4 1366 562C1361.5 562.6 1354.6 562.4 1340.9 563C1327.2 563.6 1299.6 564.9 1283.7 565.9C1267.8 566.9 1258.2 566.6 1245.5 568.7C1232.8 570.8 1220 575.1 1207.3 578.3C1194.6 581.5 1178.6 584 1169.1 588C1159.5 592 1156.1 598.5 1150 602C1143.9 605.5 1139.5 608.1 1132.6 609C1125.7 609.9 1120.2 607.8 1108.8 607.5C1097.4 607.2 1079 607.5 1064.2 607.5C1049.4 607.5 1029.8 607.2 1019.7 607.5C1009.6 607.8 1006.1 608.8 1003.4 609" stroke="#8000ff" stroke-width="4.4"/>
</g>
<rect x="1226.5" y="615.5" width="181" height="239" fill="#fff" stroke="#555" stroke-width="1"/>
<g font-family="Liberation Serif, Times New Roman, serif" fill="#000">
<line x1="1233" y1="635.8" x2="1290.5" y2="635.8" stroke="#000000" stroke-width="4.6" stroke-linecap="round"/>
<text x="1296" y="644.3" font-size="24.5">500 mV s<tspan font-size="15" dy="-10">-1</tspan></text>
<line x1="1233" y1="669.7" x2="1290.5" y2="669.7" stroke="#ff0000" stroke-width="4.6" stroke-linecap="round"/>
<text x="1296" y="678.2" font-size="24.5">250 mV s<tspan font-size="15" dy="-10">-1</tspan></text>
<line x1="1233" y1="703.6" x2="1290.5" y2="703.6" stroke="#0000ff" stroke-width="4.6" stroke-linecap="round"/>
<text x="1296" y="712.1" font-size="24.5">200 mV s<tspan font-size="15" dy="-10">-1</tspan></text>
<line x1="1233" y1="737.6" x2="1290.5" y2="737.6" stroke="#ff00ff" stroke-width="4.6" stroke-linecap="round"/>
<text x="1296" y="746.1" font-size="24.5">100 mV s<tspan font-size="15" dy="-10">-1</tspan></text>
<line x1="1233" y1="771.5" x2="1290.5" y2="771.5" stroke="#008000" stroke-width="4.6" stroke-linecap="round"/>
<text x="1296" y="780" font-size="24.5">50 mV s<tspan font-size="15" dy="-10">-1</tspan></text>
<line x1="1233" y1="805.4" x2="1290.5" y2="805.4" stroke="#000080" stroke-width="4.6" stroke-linecap="round"/>
<text x="1296" y="813.9" font-size="24.5">20 mV s<tspan font-size="15" dy="-10">-1</tspan></text>
<line x1="1233" y1="839.3" x2="1290.5" y2="839.3" stroke="#8000ff" stroke-width="4.6" stroke-linecap="round"/>
<text x="1296" y="847.8" font-size="24.5">10 mV s<tspan font-size="15" dy="-10">-1</tspan></text>
</g>
<rect x="947.6" y="480" width="477.1" height="387.4" fill="none" stroke="#000" stroke-width="4.2" stroke-linejoin="round"/>
<g font-family="Liberation Serif, Times New Roman, serif" fill="#000">
<text transform="translate(1456 500) scale(1 1.06)" font-size="49.5" text-anchor="start" font-weight="bold">D</text>
<text transform="translate(1543 533.9) scale(1 1.06)" font-size="22.6" text-anchor="end" >7.40</text>
<text transform="translate(1543 590) scale(1 1.06)" font-size="22.6" text-anchor="end" >3.70</text>
<text transform="translate(1543 646) scale(1 1.06)" font-size="22.6" text-anchor="end" >0.00</text>
<text transform="translate(1543 702.1) scale(1 1.06)" font-size="22.6" text-anchor="end" >-3.70</text>
<text transform="translate(1543 758.2) scale(1 1.06)" font-size="22.6" text-anchor="end" >-7.40</text>
<text transform="translate(1543 814.3) scale(1 1.06)" font-size="22.6" text-anchor="end" >-11.10</text>
<text transform="translate(1543 870.3) scale(1 1.06)" font-size="22.6" text-anchor="end" >-14.80</text>
<text transform="translate(1549.7 896.5) scale(1 1.06)" font-size="22.8" text-anchor="middle" >-0.2</text>
<text transform="translate(1606.5 896.5) scale(1 1.06)" font-size="22.8" text-anchor="middle" >0.0</text>
<text transform="translate(1663.3 896.5) scale(1 1.06)" font-size="22.8" text-anchor="middle" >0.2</text>
<text transform="translate(1720.1 896.5) scale(1 1.06)" font-size="22.8" text-anchor="middle" >0.4</text>
<text transform="translate(1776.9 896.5) scale(1 1.06)" font-size="22.8" text-anchor="middle" >0.6</text>
<text transform="translate(1833.7 896.5) scale(1 1.06)" font-size="22.8" text-anchor="middle" >0.8</text>
<text transform="translate(1890.5 896.5) scale(1 1.06)" font-size="22.8" text-anchor="middle" >1.0</text>
<text transform="translate(1947.3 896.5) scale(1 1.06)" font-size="22.8" text-anchor="middle" >1.2</text>
<text transform="translate(2004.1 896.5) scale(1 1.06)" font-size="22.8" text-anchor="middle" >1.4</text>
<text transform="translate(1677 933.2) scale(1 1.06)" font-size="24" textLength="217" lengthAdjust="spacingAndGlyphs">Potential / V vs. RHE</text>
<text transform="translate(1474.5 833.4) rotate(-90)" font-size="25">Current Density / mA cm<tspan font-size="15" dy="-10">-2</tspan></text>
</g>
<g fill="none" stroke-linecap="round" stroke-linejoin="round">
<path d="M1602.1 855.2C1602.4 849.5 1603.1 833.4 1604.1 821C1605.1 808.6 1606.8 793.4 1608.1 780.7C1609.4 768 1610.7 755.1 1612 745C1613.3 734.9 1614 731.3 1615.8 720C1617.6 708.7 1620 690.6 1622.7 677.3C1625.4 664 1629.3 650 1632 640C1634.7 630 1635.8 625.3 1638.6 617.3C1641.4 609.3 1645 600.4 1649 592C1653 583.6 1657.7 574 1662.4 566.8C1667.1 559.6 1671.5 554.5 1677.2 549C1682.9 543.5 1689.6 538.3 1696.5 534.1C1703.4 529.9 1710.1 526.8 1718.8 523.8C1727.5 520.8 1738.6 517.9 1748.5 516.3C1758.4 514.7 1769.6 514.2 1778.2 514.1C1786.8 514 1790.2 515 1800 515.9C1809.8 516.8 1822.8 517.8 1836.7 519.8C1850.6 521.8 1867.8 525.5 1883.3 528C1898.8 530.5 1915.4 533.5 1930 535C1944.6 536.5 1964 536.9 1970.8 537.3C1970.6 542.8 1970.7 559.5 1969.7 570C1968.7 580.5 1967 591.8 1965 600.3C1963 608.8 1960.7 615.5 1958 621.3C1955.3 627.1 1951.8 630.6 1948.7 635.3C1945.6 640 1944 643.8 1939.3 649.3C1934.6 654.8 1927.6 662.2 1920.7 668C1913.8 673.8 1907.8 678.1 1898 684C1888.2 689.9 1873 697.6 1861.9 703.6C1850.9 709.6 1840.1 715.2 1831.7 720.3C1823.3 725.4 1818.2 729.4 1811.5 734.4C1804.8 739.4 1799.1 745.1 1791.4 750.5C1783.7 755.9 1775.3 761.2 1765.2 766.6C1755.1 772 1743.4 776.7 1731 782.7C1718.6 788.8 1704.1 796.2 1690.7 802.9C1677.3 809.6 1662.2 816.6 1650.4 823C1638.7 829.4 1628.2 835.7 1620.2 841.1C1612.2 846.5 1605.1 852.9 1602.1 855.2" stroke="#000000" stroke-width="4.4"/>
<path d="M1602.1 770.6C1602.1 767.9 1601.6 761.3 1602.1 754.5C1602.6 747.7 1604 737.4 1605 730C1606 722.6 1606.9 718.2 1608.1 710.2C1609.3 702.2 1610.7 690.5 1612.2 682C1613.7 673.5 1615.2 666.5 1617 659C1618.8 651.5 1620.5 644.3 1623 637C1625.5 629.7 1628.4 620.8 1632 615C1635.6 609.2 1638.7 606.6 1644.5 602C1650.3 597.4 1659.4 591.5 1666.8 587.6C1674.2 583.7 1680.4 581.2 1689.1 578.7C1697.8 576.2 1706.4 574.5 1718.8 572.8C1731.2 571.1 1749.8 569.1 1763.3 568.6C1776.8 568.1 1783.9 568.7 1800 569.5C1816.1 570.3 1838.3 572.2 1860 573.5C1881.7 574.8 1911.7 576 1930 577C1948.3 578 1963.1 578.9 1969.7 579.3C1969.8 581.1 1970.3 584.9 1970 590C1969.7 595.1 1969.2 603.2 1968 610C1966.8 616.8 1967.1 624.5 1962.7 630.7C1958.3 636.9 1951 641.6 1941.7 647C1932.4 652.4 1920.3 658.1 1906.7 663.3C1893.1 668.5 1871.7 674.4 1860 678C1848.3 681.6 1844.8 681.8 1836.7 685C1828.6 688.2 1819 693.5 1811.5 697C1804 700.5 1801.5 702.7 1791.4 706.2C1781.3 709.8 1764.5 714.3 1751.1 718.3C1737.7 722.3 1724.2 726.4 1710.8 730.4C1697.4 734.4 1684 737.7 1670.6 742.4C1657.2 747.1 1641.7 753.8 1630.3 758.5C1618.9 763.2 1606.8 768.6 1602.1 770.6" stroke="#ff0000" stroke-width="4.4"/>
<path d="M1602.1 751.5C1602.4 746.3 1603.1 732.2 1604.1 720.3C1605.1 708.4 1606.4 690.9 1608.1 680C1609.8 669.1 1610.8 664 1614 655C1617.2 646 1622.2 634 1627.3 626C1632.4 618 1637.9 612.1 1644.5 606.9C1651.1 601.7 1659.4 598.2 1666.8 595C1674.2 591.8 1680.4 589.6 1689.1 587.6C1697.8 585.6 1706.4 584.2 1718.8 583.1C1731.2 582 1749.8 581.2 1763.3 580.9C1776.8 580.6 1783.9 580.8 1800 581.5C1816.1 582.2 1838.3 584.2 1860 585.2C1881.7 586.2 1911.7 587.1 1930 587.5C1948.3 587.9 1963.1 587.5 1969.7 587.5C1969.6 589.6 1969.6 594.6 1969 600C1968.4 605.4 1967.5 614.2 1966 620C1964.5 625.8 1964 630.9 1960 635C1956 639.1 1950.6 640.8 1941.7 644.7C1932.8 648.7 1920.3 654 1906.7 658.7C1893.1 663.4 1872.3 669.2 1860 672.7C1847.7 676.2 1842.8 676.8 1833 680C1823.2 683.2 1813.5 688.1 1801.5 692.1C1789.5 696.1 1776.3 700.2 1761.2 704.2C1746.1 708.2 1725.9 712.3 1710.8 716.3C1695.7 720.3 1684 724.3 1670.6 728.3C1657.2 732.3 1641.7 736.5 1630.3 740.4C1618.9 744.3 1606.8 749.6 1602.1 751.5" stroke="#0000ff" stroke-width="4.4"/>
<path d="M1602.1 706.2C1602.1 703.5 1601.5 697.7 1602 690C1602.5 682.3 1603.3 668 1605 660C1606.7 652 1609.5 646.9 1612 642C1614.5 637.1 1617 633.6 1620 630.5C1623 627.4 1625.6 625.4 1629.7 623.2C1633.8 621 1637.1 619.4 1644.5 617.3C1651.9 615.2 1661.8 612.3 1674.2 610.6C1686.6 608.9 1697.8 607.6 1718.8 606.9C1739.8 606.2 1758.2 606.1 1800 606.2C1841.8 606.3 1941.4 607.1 1969.7 607.3C1969.6 609.4 1970.6 615.4 1969 620C1967.4 624.6 1966.5 630.9 1960 635C1953.5 639.1 1946.7 640.8 1930 644.7C1913.3 648.7 1877.5 655.2 1860 658.7C1842.5 662.2 1836.7 663.2 1825 665.7C1813.3 668.2 1809.7 670.3 1790 673.8C1770.3 677.3 1732.2 682.6 1706.7 686.7C1681.2 690.8 1654.1 695 1636.7 698.3C1619.3 701.5 1607.9 704.9 1602.1 706.2" stroke="#ff00ff" stroke-width="4.4"/>
<path d="M1601.7 680.8C1601.7 679 1601 675.1 1601.7 670C1602.4 664.9 1603.6 655.3 1606 650C1608.4 644.7 1610.8 641.5 1616 638C1621.2 634.5 1629.9 631.4 1637.1 629.2C1644.3 627 1648.3 626 1659.4 624.7C1670.5 623.5 1680.5 622.4 1703.9 621.7C1727.3 621 1755.7 620.8 1800 620.3C1844.3 619.8 1941.4 619.2 1969.7 619C1969.4 620.8 1970.5 626.8 1968 630C1965.5 633.2 1961.3 636 1955 638C1948.7 640 1945.8 640.4 1930 642.3C1914.2 644.2 1877.5 647 1860 649.3C1842.5 651.6 1836.7 654.3 1825 656.3C1813.3 658.2 1805.8 659.2 1790 661C1774.2 662.8 1751.7 664.7 1730 666.8C1708.3 668.9 1681.4 671.5 1660 673.8C1638.6 676.1 1611.4 679.6 1601.7 680.8" stroke="#008000" stroke-width="4.4"/>
<path d="M1601.7 661C1601.7 660 1600.5 658.5 1601.7 655C1602.9 651.5 1602.9 643.5 1608.7 640C1614.5 636.5 1620.4 635.6 1636.7 634.2C1653 632.8 1679.5 632.2 1706.7 631.8C1733.9 631.4 1758.9 632.6 1800 631.8C1841.1 631 1925 628 1953.3 627.2C1981.6 626.4 1967 627 1969.7 627C1968.1 628.3 1966.6 632.8 1960 635C1953.4 637.2 1946.7 638.2 1930 640C1913.3 641.8 1876.3 644.4 1860 645.8C1843.7 647.2 1842 647 1832 648.2C1822 649.4 1817 651.6 1800 652.8C1783 654 1753.3 654.4 1730 655.2C1706.7 656 1681.4 656.5 1660 657.5C1638.6 658.5 1611.4 660.4 1601.7 661" stroke="#000080" stroke-width="4.4"/>
<path d="M1601.7 651.7C1601.7 650.9 1600.5 649 1601.7 647C1602.9 645 1602.9 641.8 1608.7 640C1614.5 638.2 1620.4 637.3 1636.7 636.5C1653 635.7 1679.5 635.5 1706.7 635.3C1733.9 635.1 1756.2 636.5 1800 635.3C1843.8 634.1 1941.4 629.5 1969.7 628.3C1968.1 629.6 1966.6 634.2 1960 636C1953.4 637.8 1946.7 637.8 1930 638.8C1913.3 639.8 1875.5 641.5 1860 642.3C1844.5 643.1 1842.2 642.7 1836.7 643.5C1831.2 644.3 1833.4 646.4 1827.3 647C1821.2 647.6 1816.2 646.8 1800 647C1783.8 647.2 1753.3 647.6 1730 648.2C1706.7 648.8 1681.4 649.9 1660 650.5C1638.6 651.1 1611.4 651.5 1601.7 651.7" stroke="#8000ff" stroke-width="4.4"/>
</g>
<rect x="1886.5" y="699.5" width="133" height="172" fill="#fff" stroke="#555" stroke-width="1"/>
<g font-family="Liberation Serif, Times New Roman, serif" fill="#000">
<line x1="1893" y1="713.2" x2="1934" y2="713.2" stroke="#000000" stroke-width="4.6" stroke-linecap="round"/>
<text x="1937" y="719.2" font-size="18">500 mV s<tspan font-size="11" dy="-7">-1</tspan></text>
<line x1="1893" y1="737.9" x2="1934" y2="737.9" stroke="#ff0000" stroke-width="4.6" stroke-linecap="round"/>
<text x="1933" y="743.9" font-size="18">250 mV s<tspan font-size="11" dy="-7">-1</tspan></text>
<line x1="1893" y1="762.6" x2="1934" y2="762.6" stroke="#0000ff" stroke-width="4.6" stroke-linecap="round"/>
<text x="1937" y="768.6" font-size="18">200 mV s<tspan font-size="11" dy="-7">-1</tspan></text>
<line x1="1893" y1="787.2" x2="1934" y2="787.2" stroke="#ff00ff" stroke-width="4.6" stroke-linecap="round"/>
<text x="1937" y="793.2" font-size="18">100 mV s<tspan font-size="11" dy="-7">-1</tspan></text>
<line x1="1893" y1="811.9" x2="1934" y2="811.9" stroke="#008000" stroke-width="4.6" stroke-linecap="round"/>
<text x="1937" y="817.9" font-size="18">50 mV s<tspan font-size="11" dy="-7">-1</tspan></text>
<line x1="1893" y1="836.6" x2="1934" y2="836.6" stroke="#000080" stroke-width="4.6" stroke-linecap="round"/>
<text x="1937" y="842.6" font-size="18">20 mV s<tspan font-size="11" dy="-7">-1</tspan></text>
<line x1="1893" y1="861.3" x2="1934" y2="861.3" stroke="#8000ff" stroke-width="4.6" stroke-linecap="round"/>
<text x="1937" y="867.3" font-size="18">10 mV s<tspan font-size="11" dy="-7">-1</tspan></text>
</g>
<rect x="1545" y="487" width="481.8" height="391" fill="none" stroke="#000" stroke-width="4.2" stroke-linejoin="round"/>
</svg>
</body></html>
